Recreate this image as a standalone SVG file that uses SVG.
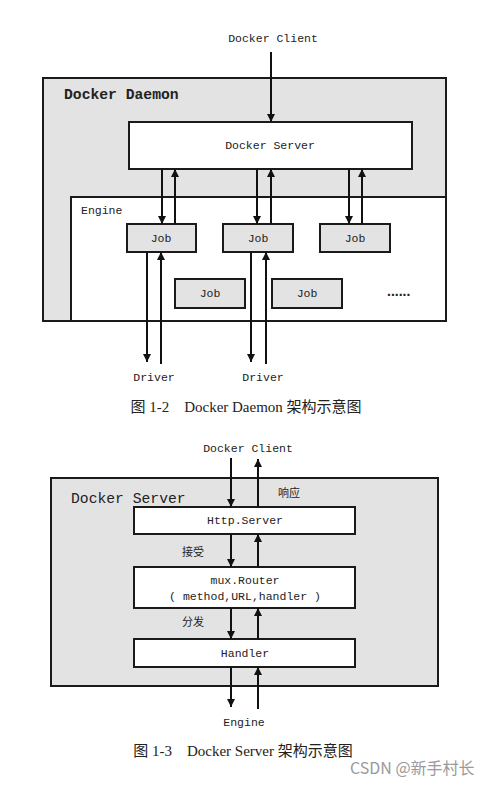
<svg xmlns="http://www.w3.org/2000/svg" width="501" height="786" viewBox="0 0 501 786">
<defs>
<marker id="ah" viewBox="0 0 10 10" refX="10" refY="5" markerWidth="9" markerHeight="8" orient="auto" markerUnits="userSpaceOnUse">
<path d="M0,0 L10,5 L0,10 z" fill="#111"/>
</marker>
<style>
.gray{fill:#e3e3e3;stroke:#1a1a1a;stroke-width:2}
.white{fill:#fff;stroke:#1a1a1a;stroke-width:2}
.m{font-family:"Liberation Mono","Noto Sans CJK SC",monospace;font-size:11.5px;fill:#222}
.big{font-family:"Liberation Mono",monospace;font-size:14.7px;fill:#222}
.cn{font-family:"Noto Sans CJK SC",sans-serif;font-size:11px;fill:#222}
.cap{font-family:"Liberation Serif","Noto Sans CJK SC",serif;font-size:15px;fill:#222}
.c line{stroke:#111;stroke-width:2;marker-end:url(#ah)}
</style>
</defs>
<rect width="501" height="786" fill="#fff"/>

<!-- Figure 1-2 -->
<g id="daemon"><rect class="gray" x="43" y="78" width="403" height="243"/><text class="big" x="64" y="99" font-weight="bold">Docker Daemon</text></g>
<g id="docker-server-1"><rect class="white" x="129" y="122" width="283" height="47"/><text class="m" x="270" y="149" text-anchor="middle">Docker Server</text></g>
<g id="engine"><rect class="white" x="71" y="197" width="375" height="124"/><text class="m" x="81" y="214">Engine</text></g>
<g id="job1"><rect class="gray" x="127" y="224" width="69" height="28"/><text class="m" x="161" y="242" text-anchor="middle">Job</text></g>
<g id="job2"><rect class="gray" x="223" y="224" width="70" height="28"/><text class="m" x="258" y="242" text-anchor="middle">Job</text></g>
<g id="job3"><rect class="gray" x="320" y="224" width="70" height="28"/><text class="m" x="355" y="242" text-anchor="middle">Job</text></g>
<g id="job4"><rect class="gray" x="175" y="279" width="70" height="29"/><text class="m" x="210" y="297" text-anchor="middle">Job</text></g>
<g id="job5"><rect class="gray" x="272" y="279" width="70" height="29"/><text class="m" x="307" y="297" text-anchor="middle">Job</text></g>
<g id="more"><text x="387" y="296" font-family="'Liberation Sans',sans-serif" font-size="14" font-weight="bold" fill="#222">......</text></g>
<g id="client-1"><text class="m" x="273" y="42" text-anchor="middle">Docker Client</text></g>
<g id="driver1"><text class="m" x="154" y="381" text-anchor="middle">Driver</text></g>
<g id="driver2"><text class="m" x="263" y="381" text-anchor="middle">Driver</text></g>
<g id="caption-1"><text class="cap" x="246" y="412" text-anchor="middle">图 1-2　Docker Daemon 架构示意图</text></g>

<g id="connectors-1" class="c">
<line x1="271" y1="52" x2="271" y2="122"/>
<line x1="162" y1="169" x2="162" y2="224"/>
<line x1="175" y1="224" x2="175" y2="169"/>
<line x1="257" y1="169" x2="257" y2="224"/>
<line x1="271" y1="224" x2="271" y2="169"/>
<line x1="349" y1="169" x2="349" y2="224"/>
<line x1="362" y1="224" x2="362" y2="169"/>
<line x1="147" y1="252" x2="147" y2="362"/>
<line x1="161" y1="364" x2="161" y2="252"/>
<line x1="251" y1="252" x2="251" y2="362"/>
<line x1="266" y1="364" x2="266" y2="252"/>
</g>

<!-- Figure 1-3 -->
<g id="docker-server-2"><rect class="gray" x="51" y="478" width="387" height="208"/><text class="big" x="71" y="503">Docker Server</text></g>
<g id="http-server"><rect class="white" x="134" y="507" width="221" height="27"/><text class="m" x="245" y="524" text-anchor="middle">Http.Server</text></g>
<g id="mux-router"><rect class="white" x="134" y="567" width="221" height="41"/><text class="m" x="245" y="584" text-anchor="middle">mux.Router</text><text class="m" x="245" y="600" text-anchor="middle">( method,URL,handler )</text></g>
<g id="handler"><rect class="white" x="134" y="639" width="221" height="28"/><text class="m" x="245" y="657" text-anchor="middle">Handler</text></g>
<g id="client-2"><text class="m" x="248" y="452" text-anchor="middle">Docker Client</text></g>
<g id="engine-2"><text class="m" x="244" y="726" text-anchor="middle">Engine</text></g>
<g id="label-resp"><text class="cn" x="278" y="497">响应</text></g>
<g id="label-accept"><text class="cn" x="182" y="556">接受</text></g>
<g id="label-dispatch"><text class="cn" x="182" y="626">分发</text></g>
<g id="caption-2"><text class="cap" x="243" y="756" text-anchor="middle">图 1-3　Docker Server 架构示意图</text></g>

<g id="connectors-2" class="c">
<line x1="231" y1="458" x2="231" y2="507"/>
<line x1="258" y1="507" x2="258" y2="459"/>
<line x1="231" y1="534" x2="231" y2="567"/>
<line x1="258" y1="567" x2="258" y2="534"/>
<line x1="231" y1="608" x2="231" y2="639"/>
<line x1="258" y1="639" x2="258" y2="608"/>
<line x1="231" y1="667" x2="231" y2="707"/>
<line x1="258" y1="709" x2="258" y2="667"/>
</g>

<g id="watermark"><text x="350" y="774" font-family="'Noto Sans CJK SC',sans-serif" font-size="16" fill="#9a9a9a">CSDN @新手村长</text></g>
</svg>
